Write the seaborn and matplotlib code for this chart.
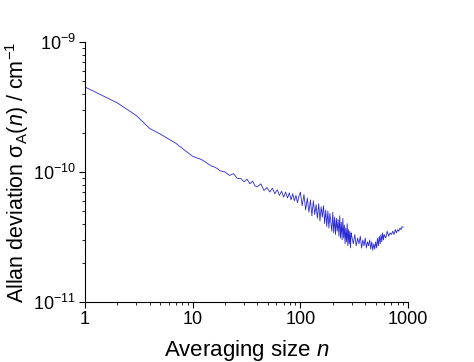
import numpy as np
import pandas as pd
import matplotlib
matplotlib.use("Agg")
import matplotlib.pyplot as plt
from matplotlib.ticker import FuncFormatter, LogLocator, NullFormatter
import seaborn as sns

# averaging size n
n_smooth = [1, 2, 3, 4, 5, 6, 7, 8, 9, 10, 11, 12, 13, 14, 15, 16, 17, 18, 19, 20]
n_mid = [22, 24, 26, 28, 30, 32, 34, 36, 38, 40, 43, 46, 49, 52, 55, 58, 61, 64,
         67, 70, 73, 76, 79, 82, 85, 88, 91, 94, 97]
n_noisy = [100, 104, 108, 112, 116, 120, 124, 128, 132, 136, 140, 144, 148, 152,
           156, 160, 164, 168, 172, 176, 180, 184, 188, 192, 196, 200, 204, 208,
           212, 216, 220, 224, 228, 232, 236, 240, 244, 248, 252, 256, 260, 264,
           268, 272, 276, 280, 284, 288, 292, 296]
n_tail = [300, 310, 320, 330, 340, 350, 360, 370, 380, 390, 400, 410, 420, 430,
          440, 450, 460, 470, 480, 490, 500, 510, 520, 530, 540, 550, 560, 570,
          580, 590, 600, 620, 640, 660, 680, 700, 720, 740, 760, 780, 800, 820,
          840, 860, 880, 900]

# Allan deviation, in units of 1e-11 cm^-1
sig_smooth = [45.1, 34.0, 27.2, 21.6, 19.6, 17.9, 16.6, 15.2, 14.1, 13.2, 12.8,
              12.5, 12.0, 11.5, 11.1, 10.9, 10.6, 10.2, 10.1, 10.0]
sig_mid = [9.4, 9.7, 8.9, 8.9, 8.4, 8.8, 8.1, 8.5, 7.8, 7.7, 8.1, 7.2, 7.6, 7.0,
           7.5, 6.8, 7.3, 6.6, 7.1, 6.4, 7.0, 6.3, 6.9, 6.1, 6.8, 6.0, 6.6, 5.8, 6.5]
sig_noisy = [7.0, 5.5, 6.7, 5.1, 6.3, 4.9, 6.1, 4.6, 6.0, 4.7, 5.6, 4.4, 5.7, 4.2,
             5.4, 4.5, 5.5, 4.0, 5.1, 3.8, 5.0, 3.7, 4.8, 4.1, 3.5, 4.9, 3.4, 4.5,
             3.3, 4.4, 3.5, 4.3, 3.2, 4.6, 3.1, 4.1, 3.0, 4.4, 3.1, 3.9, 2.8, 3.7,
             2.9, 4.0, 2.7, 3.6, 2.8, 3.5, 2.6, 3.4]
sig_tail = [3.2, 2.8, 3.3, 2.7, 3.1, 2.8, 3.2, 2.6, 3.0, 2.7, 3.1, 2.6, 2.9, 2.7,
            3.0, 2.55, 2.9, 2.5, 2.8, 2.55, 2.9, 2.6, 3.1, 2.7, 3.2, 2.8, 3.3, 2.9,
            3.4, 3.0, 3.3, 3.1, 3.5, 3.2, 3.4, 3.3, 3.5, 3.3, 3.6, 3.4, 3.6, 3.5,
            3.7, 3.6, 3.8, 3.75]

x_ticks = [1, 10, 100, 1000]

df = pd.DataFrame({
    "n": n_smooth + n_mid + n_noisy + n_tail,
    "sigma": np.array(sig_smooth + sig_mid + sig_noisy + sig_tail) * 1e-11,
})

sns.set_style("ticks")
plt.rcParams["font.family"] = ["Liberation Sans", "DejaVu Sans"]
plt.rcParams["mathtext.fontset"] = "custom"
plt.rcParams["mathtext.rm"] = "Liberation Sans"
plt.rcParams["mathtext.it"] = "Liberation Sans:italic"
plt.rcParams["mathtext.default"] = "regular"
plt.rcParams["text.color"] = "black"
plt.rcParams["axes.labelcolor"] = "black"
plt.rcParams["xtick.color"] = "black"
plt.rcParams["ytick.color"] = "black"
plt.rcParams["axes.edgecolor"] = "black"

fig = plt.figure(figsize=(4.74, 3.62), dpi=100)
ax = fig.add_axes([0.179, 0.166, 0.682, 0.718])

sns.lineplot(data=df, x="n", y="sigma", ax=ax, color="#2a2ad2",
             linewidth=0.6, estimator=None, sort=False)

ax.set_xscale("log")
ax.set_yscale("log")
ax.set_xlim(1, 1000)
ax.set_ylim(1e-11, 1e-9)
ax.set_xticks(x_ticks)
ax.xaxis.set_major_formatter(FuncFormatter(lambda v, p: f"{v:g}"))
ax.xaxis.set_minor_locator(LogLocator(base=10, subs=np.arange(2, 10)))
ax.yaxis.set_minor_locator(LogLocator(base=10, subs=np.arange(2, 10)))
ax.xaxis.set_minor_formatter(NullFormatter())
ax.yaxis.set_minor_formatter(NullFormatter())

ax.tick_params(axis="both", which="major", direction="out", length=4.5,
               width=0.8, labelsize=13, pad=2)
ax.tick_params(axis="both", which="minor", direction="out", length=2.5,
               width=0.6)

ax.set_xlabel("Averaging size $\\mathit{n}$", fontsize=16, labelpad=7)
ax.set_ylabel("Allan deviation σ$_{\\mathrm{A}}$($\\mathit{n}$) / cm$^{-1}$",
              fontsize=15.5, labelpad=1)

sns.despine(ax=ax)
for s in ["left", "bottom"]:
    ax.spines[s].set_linewidth(0.8)

fig.savefig("out.png", dpi=100)
